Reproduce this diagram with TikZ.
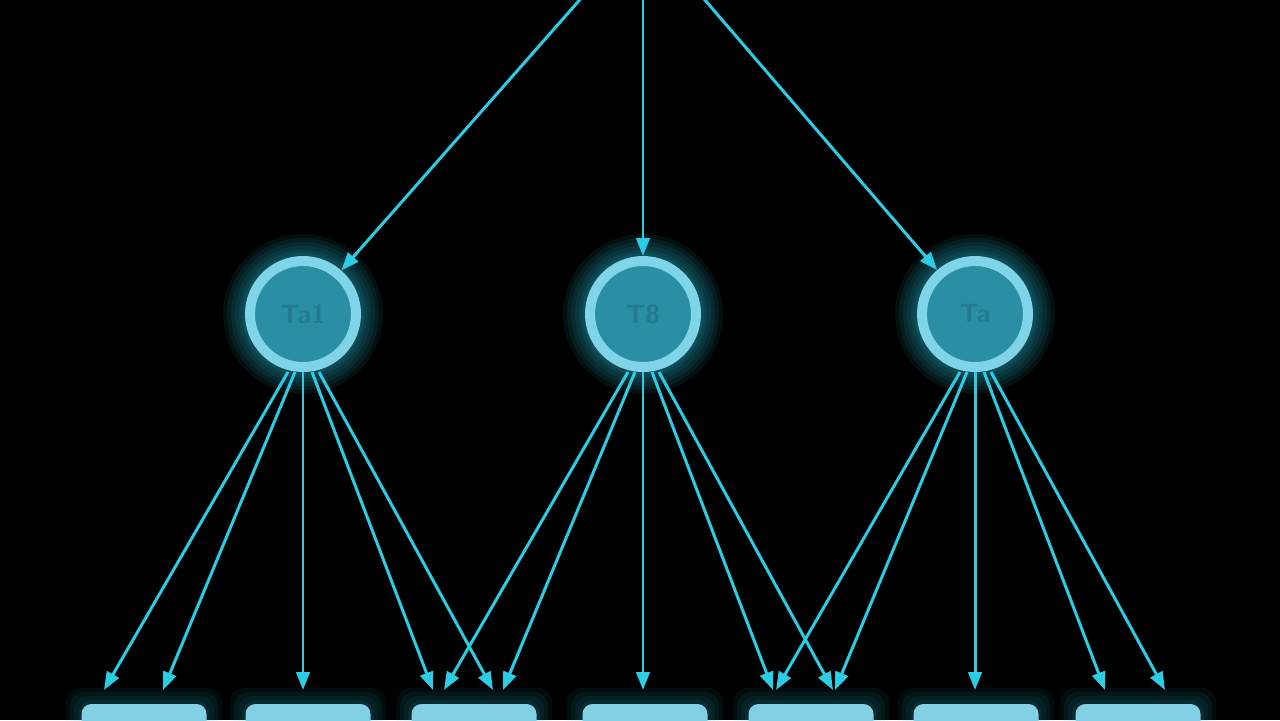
\documentclass[tikz,border=0pt]{standalone}
\usetikzlibrary{arrows.meta}
\definecolor{cyanline}{HTML}{2BCDE5}
\definecolor{ringcol}{HTML}{7FD4E8}
\definecolor{corecol}{HTML}{2A8FA4}
\definecolor{labelcol}{HTML}{227A8E}
\definecolor{boxcol}{HTML}{82D0E3}
\begin{document}
\begin{tikzpicture}[x=0.1mm, y=-0.1mm]
    \tikzstyle{every node}=[align = center]
    \tikzstyle{topic} = [circle, draw=ringcol, line width=1mm, fill=corecol, minimum size=10.6mm, inner sep=0pt, font=\sffamily\bfseries\fontsize{7.5}{8}\selectfont, text=labelcol]
    \tikzstyle{leaf} = [rectangle, rounded corners=1mm, fill=boxcol, minimum width=12.5mm, minimum height=4mm, inner sep=0pt]
    \tikzstyle{link} = [cyanline, line width=0.85pt, -{Triangle[length=1.8mm,width=1.35mm]}]
    \fill[black] (0,0) rectangle (1280,720);
    \useasboundingbox (0,0) rectangle (1280,720);
    \clip (0,0) rectangle (1280,720);
    % glow behind the nodes
    \foreach \x in {303,643,975}
        \foreach \r in {6.1,6.4,6.8,7.2,7.6,8.0}
            \fill[cyanline, opacity=0.08] (\x,314) circle (\r mm);
    \foreach \x in {144,308,474,645,811,976,1138}
        \foreach \g in {0.4,0.8,1.2,1.6}
            \fill[cyanline, opacity=0.06, rounded corners=1.4mm] ([shift={(-62-10*\g,-20-10*\g)}]\x,724) rectangle ([shift={(62+10*\g,20+10*\g)}]\x,724);
    % middle level
    \node[topic] (ta1) at (303,314) {Ta1};
    \node[topic] (t8) at (643,314) {T8};
    \node[topic] (ta) at (975,314) {Ta};
    \coordinate (root) at (643,-72);
    % bottom level
    \foreach \n/\x in {b1/144, b2/308, b3/474, b4/645, b5/811, b6/976, b7/1138}
        \node[leaf] (\n) at (\x,724) {};
    % links
    \draw[link] (root) -- (ta1);
    \draw[link] (root) -- (t8);
    \draw[link] (root) -- (ta);
    \foreach \c/\x in {ta1/303, t8/643, ta/975}
        \foreach \d/\s [count=\k] in {-199/-1.5, -140/-0.8, 0/0, 130/0.9, 190/1.6} {
            \coordinate (\c-\k) at (\x+\d,690);
            \draw[link] ([xshift=\s mm]\c.south) -- (\c-\k);
        }
\end{tikzpicture}
\end{document}
